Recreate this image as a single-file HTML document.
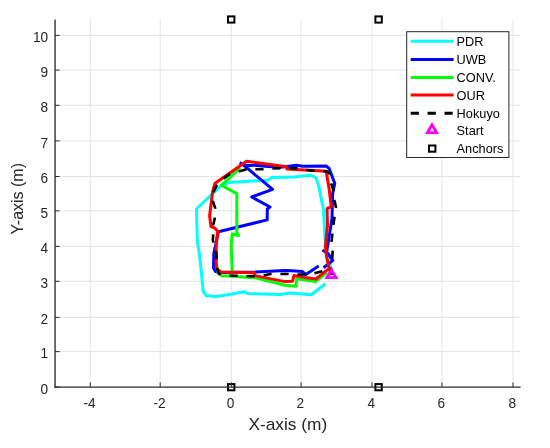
<!DOCTYPE html>
<html><head><meta charset="utf-8"><title>Trajectory plot</title>
<style>
html,body{margin:0;padding:0;background:#fff;}
body{width:550px;height:448px;overflow:hidden;}
svg{display:block;}
text{font-family:"Liberation Sans",sans-serif;}
</style></head><body>
<svg width="550" height="448" viewBox="0 0 550 448">
<rect width="550" height="448" fill="#fff"/>
<g stroke="#e4e4e4" stroke-width="1" fill="none">
<line x1="90.3" y1="19.4" x2="90.3" y2="386.9"/>
<line x1="160.2" y1="19.4" x2="160.2" y2="386.9"/>
<line x1="231.3" y1="19.4" x2="231.3" y2="386.9"/>
<line x1="301.1" y1="19.4" x2="301.1" y2="386.9"/>
<line x1="372.0" y1="19.4" x2="372.0" y2="386.9"/>
<line x1="442.0" y1="19.4" x2="442.0" y2="386.9"/>
<line x1="513.0" y1="19.4" x2="513.0" y2="386.9"/>
<line x1="55.05" y1="351.6" x2="520.6" y2="351.6"/>
<line x1="55.05" y1="317.4" x2="520.6" y2="317.4"/>
<line x1="55.05" y1="281.3" x2="520.6" y2="281.3"/>
<line x1="55.05" y1="246.4" x2="520.6" y2="246.4"/>
<line x1="55.05" y1="210.8" x2="520.6" y2="210.8"/>
<line x1="55.05" y1="176.5" x2="520.6" y2="176.5"/>
<line x1="55.05" y1="140.9" x2="520.6" y2="140.9"/>
<line x1="55.05" y1="105.3" x2="520.6" y2="105.3"/>
<line x1="55.05" y1="70.1" x2="520.6" y2="70.1"/>
<line x1="55.05" y1="35.4" x2="520.6" y2="35.4"/>
</g>
<polyline points="325.5,283.7 311.3,294.8 291.0,293.0 280.0,294.6 247.4,293.4 244.0,291.7 231.0,294.2 216.3,296.6 206.5,295.8 203.2,291.5 201.0,269.0 199.5,254.5 197.5,243.0 196.8,224.5 196.5,209.0 221.0,185.6 229.3,182.6 247.8,181.2 267.8,180.3 271.9,177.6 294.0,177.0 310.0,175.2 316.0,177.6 318.8,186.4 323.5,210.0 325.0,239.0 327.5,255.0 330.5,266.0 331.3,274.0" fill="none" stroke="#00ffff" stroke-width="3.0" stroke-linejoin="round" stroke-linecap="butt" />
<polyline points="239.8,162.6 244.2,165.7 272.6,189.4 251.7,196.9 270.0,207.0 267.3,209.0 267.2,219.9 218.4,231.8 213.8,253.6 213.5,268.0 215.5,271.5 219.0,272.4 255.5,272.1 285.0,270.5 291.7,270.8 302.1,271.4 305.8,274.5 318.7,266.1" fill="none" stroke="#0000ff" stroke-width="3.0" stroke-linejoin="round" stroke-linecap="butt" />
<polyline points="244.2,165.7 254.2,165.2 265.0,166.2 279.6,167.2 285.4,166.8 296.3,165.3 302.8,166.3 326.0,166.0 329.0,168.2 334.8,183.5 332.6,193.6 332.0,218.7 326.8,250.7" fill="none" stroke="#0000ff" stroke-width="3.0" stroke-linejoin="round" stroke-linecap="butt" />
<polyline points="322.4,249.9 328.0,253.6 332.8,260.4 323.6,267.7" fill="none" stroke="#0000ff" stroke-width="3.0" stroke-linejoin="round" stroke-linecap="butt" />
<polyline points="240.2,168.2 221.3,185.3 236.8,193.6 236.8,232.5 238.7,235.5 232.2,234.0 231.2,246.4 232.2,271.0 231.8,276.2 255.5,277.8 285.0,285.2 296.0,286.2 296.6,278.8 315.6,281.6 326.7,272.6" fill="none" stroke="#00ff00" stroke-width="3.0" stroke-linejoin="round" stroke-linecap="butt" />
<polyline points="232.5,275.9 221.5,275.7 218.0,272.5 216.5,264.0" fill="none" stroke="#00ff00" stroke-width="3.0" stroke-linejoin="round" stroke-linecap="butt" />
<polyline points="331.4,275.2 329.2,268.3 316.0,279.0 305.0,277.5 294.0,275.5 292.5,281.3 285.0,281.6 254.7,275.6 254.7,272.8 221.2,272.1 216.3,268.5 216.2,246.4 217.6,231.0 214.7,228.2 211.0,226.7 209.6,215.8 212.6,192.0 214.8,183.6 246.6,161.3 270.0,164.5 286.8,166.7 286.8,168.9 326.2,171.3 329.3,190.0 331.2,206.8 327.0,208.7 327.5,225.0 325.4,246.4 326.8,258.0 329.2,268.3" fill="none" stroke="#ff0000" stroke-width="3.0" stroke-linejoin="round" stroke-linecap="butt" />
<polyline points="331.4,274.9 331.0,269.0 332.2,259.7 332.6,251.8 331.6,241.3 332.3,234.7 333.4,224.5 334.5,217.3 336.0,207.5 334.5,200.2 333.6,190.7 331.2,183.5 329.7,173.8 327.5,171.6 323.2,171.0 313.7,170.6 305.7,170.0 297.0,168.4 289.0,168.2 280.3,168.2 273.0,168.4 263.5,169.3 255.5,169.3 246.7,169.2 238.0,171.6 229.6,174.2 223.7,178.4 217.0,185.0 213.3,192.2 212.8,201.0 215.2,208.2 214.7,218.7 213.3,224.5 213.3,233.3 212.8,240.0 216.0,250.7 216.5,256.5 216.8,267.5 219.0,274.0 228.5,275.7 236.7,275.7 245.7,276.2 254.0,276.2 263.7,275.4 272.0,273.7 280.0,274.0 287.4,274.0 297.2,274.5 304.0,274.5 314.4,273.3 321.2,271.4 330.0,268.5" fill="none" stroke="#000000" stroke-width="2.6" stroke-linejoin="round" stroke-linecap="butt" stroke-dasharray="8.2 8.84" stroke-dashoffset="0.84"/>
<polygon points="331.4,269.7 326.8,277.6 336,277.6" fill="none" stroke="#ff00ff" stroke-width="2.8"/>
<rect x="228.0" y="384.1" width="6.4" height="6.2" fill="none" stroke="#000" stroke-width="2"/>
<rect x="375.4" y="384.1" width="6.4" height="6.2" fill="none" stroke="#000" stroke-width="2"/>
<rect x="228.0" y="16.4" width="6.4" height="6.2" fill="none" stroke="#000" stroke-width="2"/>
<rect x="375.4" y="16.4" width="6.4" height="6.2" fill="none" stroke="#000" stroke-width="2"/>
<g stroke="#2a2a2a" stroke-width="1.35" fill="none">
<line x1="55.05" y1="19.4" x2="55.05" y2="387.5"/>
<line x1="54.349999999999994" y1="387.09999999999997" x2="520.6" y2="387.09999999999997" stroke-width="1.15"/>
</g>
<g stroke="#2a2a2a" stroke-width="1" fill="none">
<line x1="90.3" y1="386.9" x2="90.3" y2="382.4"/>
<line x1="160.2" y1="386.9" x2="160.2" y2="382.4"/>
<line x1="231.3" y1="386.9" x2="231.3" y2="382.4"/>
<line x1="301.1" y1="386.9" x2="301.1" y2="382.4"/>
<line x1="372.0" y1="386.9" x2="372.0" y2="382.4"/>
<line x1="442.0" y1="386.9" x2="442.0" y2="382.4"/>
<line x1="513.0" y1="386.9" x2="513.0" y2="382.4"/>
<line x1="55.05" y1="386.9" x2="59.55" y2="386.9"/>
<line x1="55.05" y1="351.6" x2="59.55" y2="351.6"/>
<line x1="55.05" y1="317.4" x2="59.55" y2="317.4"/>
<line x1="55.05" y1="281.3" x2="59.55" y2="281.3"/>
<line x1="55.05" y1="246.4" x2="59.55" y2="246.4"/>
<line x1="55.05" y1="210.8" x2="59.55" y2="210.8"/>
<line x1="55.05" y1="176.5" x2="59.55" y2="176.5"/>
<line x1="55.05" y1="140.9" x2="59.55" y2="140.9"/>
<line x1="55.05" y1="105.3" x2="59.55" y2="105.3"/>
<line x1="55.05" y1="70.1" x2="59.55" y2="70.1"/>
<line x1="55.05" y1="35.4" x2="59.55" y2="35.4"/>
</g>
<text transform="translate(89.6,408.4) scale(0.93,1.0)" font-size="14.7" text-anchor="middle" fill="#262626">-4</text>
<text transform="translate(159.5,408.4) scale(0.93,1.0)" font-size="14.7" text-anchor="middle" fill="#262626">-2</text>
<text transform="translate(230.6,408.4) scale(0.93,1.0)" font-size="14.7" text-anchor="middle" fill="#262626">0</text>
<text transform="translate(300.4,408.4) scale(0.93,1.0)" font-size="14.7" text-anchor="middle" fill="#262626">2</text>
<text transform="translate(371.3,408.4) scale(0.93,1.0)" font-size="14.7" text-anchor="middle" fill="#262626">4</text>
<text transform="translate(441.3,408.4) scale(0.93,1.0)" font-size="14.7" text-anchor="middle" fill="#262626">6</text>
<text transform="translate(512.3,408.4) scale(0.93,1.0)" font-size="14.7" text-anchor="middle" fill="#262626">8</text>
<text transform="translate(48.2,393.6) scale(0.93,1.0)" font-size="14.7" text-anchor="end" fill="#262626">0</text>
<text transform="translate(48.2,358.3) scale(0.93,1.0)" font-size="14.7" text-anchor="end" fill="#262626">1</text>
<text transform="translate(48.2,324.1) scale(0.93,1.0)" font-size="14.7" text-anchor="end" fill="#262626">2</text>
<text transform="translate(48.2,288.0) scale(0.93,1.0)" font-size="14.7" text-anchor="end" fill="#262626">3</text>
<text transform="translate(48.2,253.1) scale(0.93,1.0)" font-size="14.7" text-anchor="end" fill="#262626">4</text>
<text transform="translate(48.2,217.5) scale(0.93,1.0)" font-size="14.7" text-anchor="end" fill="#262626">5</text>
<text transform="translate(48.2,183.2) scale(0.93,1.0)" font-size="14.7" text-anchor="end" fill="#262626">6</text>
<text transform="translate(48.2,147.6) scale(0.93,1.0)" font-size="14.7" text-anchor="end" fill="#262626">7</text>
<text transform="translate(48.2,112.0) scale(0.93,1.0)" font-size="14.7" text-anchor="end" fill="#262626">8</text>
<text transform="translate(48.2,76.8) scale(0.93,1.0)" font-size="14.7" text-anchor="end" fill="#262626">9</text>
<text transform="translate(48.2,42.1) scale(0.93,1.0)" font-size="14.7" text-anchor="end" fill="#262626">10</text>
<text transform="translate(287.8,430.2) scale(1.03,1.0)" font-size="16.8" text-anchor="middle" fill="#262626">X-axis (m)</text>
<text transform="translate(22.8,198.7) rotate(-90) scale(1,1.065)" font-size="16" text-anchor="middle" fill="#262626">Y-axis (m)</text>
<rect x="406.7" y="31.7" width="102.2" height="125.8" fill="#fff" stroke="#262626" stroke-width="1"/>
<line x1="410.7" y1="41.3" x2="453.6" y2="41.3" stroke="#00ffff" stroke-width="3"/>
<line x1="410.7" y1="59.5" x2="453.6" y2="59.5" stroke="#0000ff" stroke-width="3"/>
<line x1="410.7" y1="77.6" x2="453.6" y2="77.6" stroke="#00ff00" stroke-width="3"/>
<line x1="410.7" y1="94.9" x2="453.6" y2="94.9" stroke="#ff0000" stroke-width="3"/>
<line x1="410.7" y1="113.2" x2="453.6" y2="113.2" stroke="#000" stroke-width="3" stroke-dasharray="8.2 8.7"/>
<polygon points="432,124.8 427.4,132.7 436.6,132.7" fill="none" stroke="#ff00ff" stroke-width="2.8"/>
<rect x="429" y="145.5" width="6.4" height="6.2" fill="none" stroke="#000" stroke-width="2"/>
<text transform="translate(456.6,45.9) scale(1.065,1.0)" font-size="12" text-anchor="start" fill="#000">PDR</text>
<text transform="translate(456.6,64.1) scale(1.065,1.0)" font-size="12" text-anchor="start" fill="#000">UWB</text>
<text transform="translate(456.6,82.2) scale(1.065,1.0)" font-size="12" text-anchor="start" fill="#000">CONV.</text>
<text transform="translate(456.6,99.5) scale(1.065,1.0)" font-size="12" text-anchor="start" fill="#000">OUR</text>
<text transform="translate(456.6,117.8) scale(1.065,1.0)" font-size="12" text-anchor="start" fill="#000">Hokuyo</text>
<text transform="translate(456.6,134.8) scale(1.065,1.0)" font-size="12" text-anchor="start" fill="#000">Start</text>
<text transform="translate(456.6,152.9) scale(1.065,1.0)" font-size="12" text-anchor="start" fill="#000">Anchors</text>
</svg>
</body></html>
